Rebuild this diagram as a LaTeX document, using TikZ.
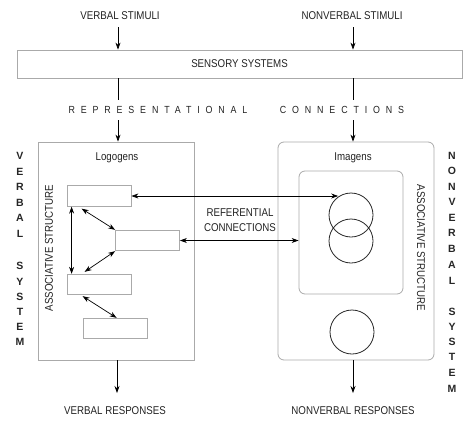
\documentclass[tikz,border=0pt]{standalone}
\usepackage{fontspec}
\setmainfont{Liberation Sans}[FakeStretch=0.86]
\newfontfamily\boldlet{Liberation Sans Bold}
\usetikzlibrary{arrows.meta,calc}
\definecolor{txt}{HTML}{222222}
\definecolor{boxc}{HTML}{AAAAAA}
\begin{document}
\begin{tikzpicture}[x=1pt,y=-1pt,
  lbl/.style={font=\fontsize{11.3}{12}\selectfont, text=txt, inner sep=0pt},
  bigbox/.style={draw=boxc, line width=0.8pt, inner sep=0pt},
  smallbox/.style={draw=boxc, line width=0.8pt, minimum width=64pt, minimum height=20.5pt, inner sep=0pt},
  circ/.style={draw=black!85, line width=0.8pt, circle, minimum size=44pt, inner sep=0pt},
  arr/.style={-{Stealth[length=7pt,width=5pt]}, line width=0.7pt},
  darr/.style={{Stealth[length=7pt,width=5pt]}-{Stealth[length=7pt,width=5pt]}, line width=0.7pt},
  ln/.style={line width=0.7pt},
  vlet/.style={font=\boldlet\fontsize{10.5}{12}\selectfont, text=black!85, inner sep=0pt}
]
\useasboundingbox (0,0) rectangle (474,426);

% top
\node[lbl] (vs) at (120,16) {VERBAL STIMULI};
\node[lbl] (ns) at (352,16) {NONVERBAL STIMULI};
\node[bigbox, minimum width=445pt, minimum height=28pt] (sens) at (239.5,64) {};
\node[lbl] (senst) at (sens.center) {SENSORY SYSTEMS};
\coordinate (va) at (118,27);
\coordinate (na) at (353,27);
\draw[arr] (va) -- (va |- sens.north);
\draw[arr] (na) -- (na |- sens.north);

% representational connections
\node[lbl, font=\fontsize{10.3}{12}\selectfont\addfontfeature{LetterSpace=57}] (rep) at (158,110) {REPRESENTATIONAL};
\node[lbl, font=\fontsize{10.3}{12}\selectfont\addfontfeature{LetterSpace=57}] (con) at (342,110) {CONNECTIONS};
\coordinate (l1) at (118,100);
\coordinate (l2) at (118,120);
\coordinate (r1c) at (353,100);
\coordinate (r2c) at (353,120);

% boxes
\node[bigbox, minimum width=156pt, minimum height=218pt] (lbox) at (116,251) {};
\node[bigbox, rounded corners=6pt, minimum width=156pt, minimum height=218pt] (rbox) at (356,251) {};
\draw[ln] (l1 |- sens.south) -- (l1);
\draw[arr] (l2) -- (l2 |- lbox.north);
\draw[ln] (r1c |- sens.south) -- (r1c);
\draw[arr] (r2c) -- (r2c |- rbox.north);

\node[lbl] (logo) at (117,158) {Logogens};
\node[lbl] (imag) at (353,158) {Imagens};
\node[lbl, rotate=90] (asl) at (49,248) {ASSOCIATIVE STRUCTURE};
\node[lbl, rotate=-90] (asr) at (421,248) {ASSOCIATIVE STRUCTURE};

% logogen boxes
\node[smallbox] (b1) at (99,196) {};
\node[smallbox] (b2) at (147.5,240.5) {};
\node[smallbox] (b3) at (99,284.5) {};
\node[smallbox] (b4) at (115,328.5) {};

\draw[darr] ($(b1.south west)+(5,0)$) -- ($(b3.north west)+(5,0)$);
\draw[darr] ($(b1.south west)+(15,2)$) -- (b2.north west);
\draw[darr] (b2.south west) -- ($(b3.north west)+(18,-2)$);
\draw[darr] ($(b3.south west)+(16,1)$) -- ($(b4.north west)+(34,0)$);

% imagens
\node[bigbox, rounded corners=6pt, minimum width=104pt, minimum height=123pt] (inner) at (351,232.5) {};
\node[circ] (c1) at (351,215) {};
\node[circ] (c2) at (351,241) {};
\node[circ] (c3) at (352,332) {};

% referential connections
\draw[darr] (b1.east) -- (b1.east -| c1.125);
\draw[darr] (b2.east) -- (b2.east -| inner.west);
\node[lbl, align=center, font=\fontsize{11.3}{14.5}\selectfont] (ref) at (240,220) {REFERENTIAL\\CONNECTIONS};

% responses
\node[lbl] (vr) at (115,411) {VERBAL RESPONSES};
\node[lbl] (nr) at (353,411) {NONVERBAL RESPONSES};
\coordinate (vra) at (117,393);
\coordinate (nra) at (353,393);
\draw[arr] (vra |- lbox.south) -- (vra);
\draw[arr] (nra |- rbox.south) -- (nra);

% vertical system labels
\foreach \l/\y [count=\i] in {V/156,E/172,R/187,B/203,A/218,L/234,S/266,Y/282,S/297,T/312,E/327,M/342}
  \node[vlet] (vsys\i) at (20,\y) {\l};
\foreach \l/\y [count=\i] in {N/156,O/171,N/187,V/202,E/218,R/233,B/249,A/265,L/281,S/312,Y/327,S/342,T/357,E/373,M/389}
  \node[vlet] (nsys\i) at (452,\y) {\l};
\end{tikzpicture}
\end{document}
